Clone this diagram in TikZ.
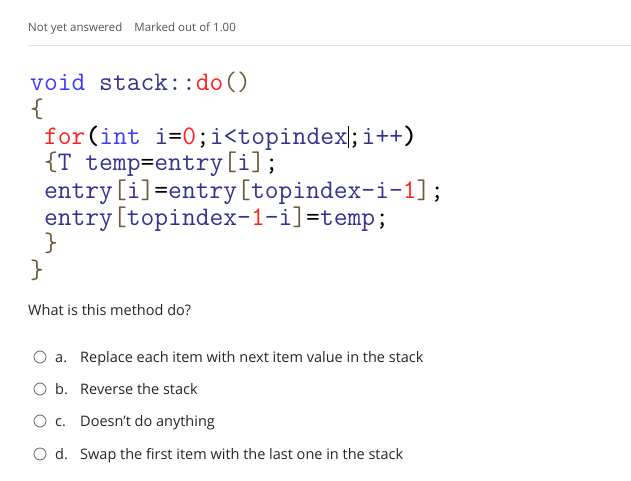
\documentclass[tikz,border=0pt]{standalone}
\usepackage{fontspec}
\setmainfont{Open Sans}
\definecolor{kw}{HTML}{3C3CFF}
\definecolor{id}{HTML}{33338F}
\definecolor{rd}{HTML}{FF2020}
\definecolor{br}{HTML}{6B5B3B}
\definecolor{gr}{HTML}{555555}
\newcommand{\K}[1]{\textcolor{kw}{#1}}
\newcommand{\I}[1]{\textcolor{id}{#1}}
\newcommand{\R}[1]{\textcolor{rd}{#1}}
\newcommand{\B}[1]{\textcolor{br}{#1}}
\newcommand{\cur}{\makebox[0pt]{\rule[-3pt]{0.8pt}{22pt}}}
\tikzset{codeline/.style={anchor=base west,inner sep=0,font=\ttfamily\fontsize{26.8}{28}\selectfont},
 txt/.style={anchor=base west,inner sep=0,font=\fontsize{14.5}{16}\selectfont,text=black!85},
 ques/.style={anchor=base west,inner sep=0,font=\fontsize{14.5}{16}\selectfont,text=black!85},
 small/.style={anchor=base west,inner sep=0,font=\fontsize{11.5}{13}\selectfont,text=gr},
 radio/.style={circle,draw=black!60,line width=0.8pt,minimum size=12pt,inner sep=0}}
\begin{document}
\begin{tikzpicture}[x=1pt,y=-1pt]
\useasboundingbox[fill=white] (0,0) rectangle (631,481);
\node[small] (st) at (28,32) {Not yet answered\hspace{12pt}Marked out of 1.00};
\coordinate (l1) at (28,45); \coordinate (l2) at (631,45);
\draw[black!12,line width=0.8pt] (l1) -- (l2);
\node[codeline] (c1) at (30,91) {\K{void} \I{stack::}\R{do}\B{()}};
\node[codeline] (c2) at (30,118) {\B{\{}};
\node[codeline] (c3) at (30,145) {\ \R{for}\textbf{(}\K{int} \I{i}=\R{0};\I{i<topindex}\cur;\I{i++}\textbf{)}};
\node[codeline] (c4) at (30,171) {\ \B{\{}\I{T temp}=\I{entry}\B{[}\I{i}\B{]};};
\node[codeline] (c5) at (30,198) {\ \I{entry}\B{[}\I{i}\B{]}=\I{entry}\B{[}\I{topindex-i-}\R{1}\B{]};};
\node[codeline] (c6) at (30,225) {\ \I{entry}\B{[}\I{topindex-}\R{1}\I{-i}\B{]}=\I{temp};};
\node[codeline] (c7) at (30,251) {\ \B{\}}};
\node[codeline] (c8) at (30,278) {\B{\}}};
\node[ques] (q) at (28,315) {What is this method do?};
\foreach \y/\l/\t [count=\n] in {362/a./Replace each item with next item value in the stack,
  394/b./Reverse the stack, 426/c./Doesn't do anything,
  459/d./Swap the first item with the last one in the stack}{
  \node[radio] (r\n) at (40,\y-5) {};
  \node[txt] (l\n) at (55,\y) {\l};
  \node[txt] (t\n) at (80,\y) {\t};
}
\end{tikzpicture}
\end{document}
